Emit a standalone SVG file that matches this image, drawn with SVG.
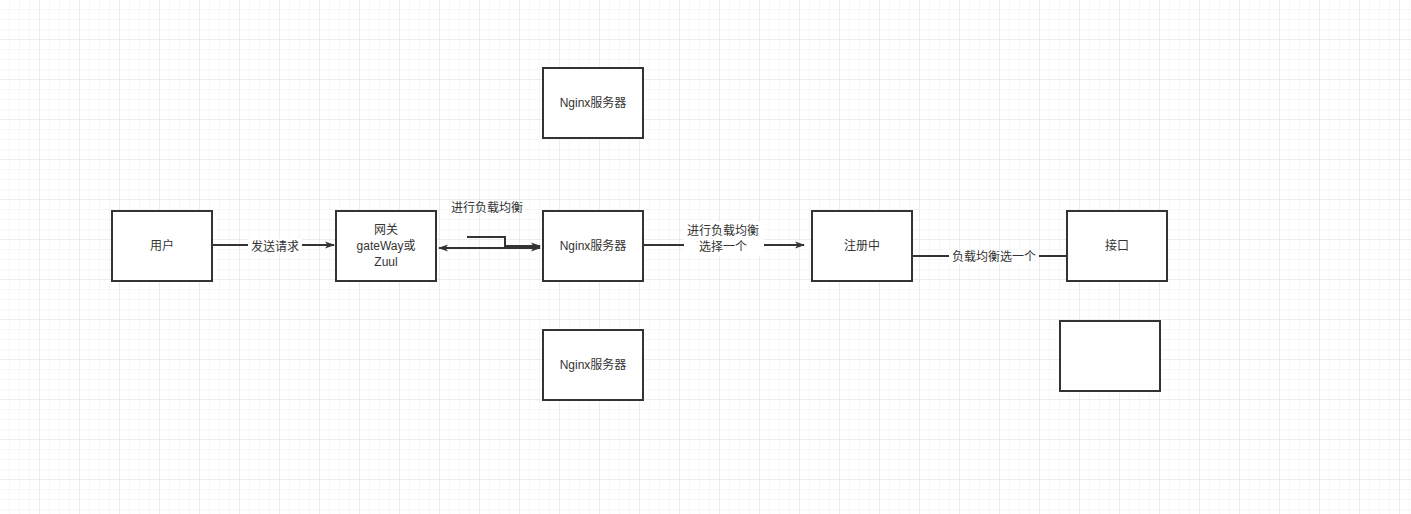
<svg xmlns="http://www.w3.org/2000/svg" width="1411" height="514" viewBox="0 0 1411 514">
<defs>
<pattern id="minor" width="10" height="10" patternUnits="userSpaceOnUse" x="0" y="0"><path d="M10 0V10H0" fill="none" stroke="#efefef" stroke-width="1"/></pattern>
<pattern id="major" width="40" height="40" patternUnits="userSpaceOnUse" x="0" y="0"><rect width="40" height="40" fill="url(#minor)"/><path d="M40 0V40H0" fill="none" stroke="#e2e2e2" stroke-width="1"/></pattern>
<marker id="ah" viewBox="0 0 10 10" refX="9" refY="5" markerWidth="10" markerHeight="10" markerUnits="userSpaceOnUse" orient="auto-start-reverse"><path d="M0 1.5L10 5L0 8.5L2.5 5Z" fill="#333"/></marker>
</defs>
<style>
.box{fill:#fff;stroke:#333;stroke-width:2}
.t{font-family:"Liberation Sans","Noto Sans CJK SC",sans-serif;font-size:12px;fill:#333;text-anchor:middle}
.c{fill:none;stroke:#333;stroke-width:2}
.lb{fill:#fff}
</style>
<rect width="1411" height="514" fill="#fff"/>
<rect width="1411" height="514" fill="url(#major)"/>
<g id="connectors">
<line class="c" x1="212" y1="245" x2="334" y2="245" marker-end="url(#ah)"/>
<rect class="lb" x="248" y="239" width="54" height="15"/>
<text class="t" x="275" y="251">发送请求</text>
<line class="c" x1="439" y1="248" x2="540" y2="248" marker-start="url(#ah)" marker-end="url(#ah)"/>
<polyline class="c" points="467,237 505,237 505,246 540,246" marker-end="url(#ah)"/>
<text class="t" x="487" y="212">进行负载均衡</text>
<line class="c" x1="643" y1="245" x2="804" y2="245" marker-end="url(#ah)"/>
<rect class="lb" x="684" y="222" width="80" height="34"/>
<text class="t" x="723" y="235">进行负载均衡</text>
<text class="t" x="723" y="251">选择一个</text>
<line class="c" x1="912" y1="256" x2="1075" y2="256" marker-end="url(#ah)"/>
<rect class="lb" x="949" y="250" width="90" height="14"/>
<text class="t" x="994" y="261">负载均衡选一个</text>
</g>
<g id="user"><rect class="box" x="112" y="211" width="100" height="70"/><text class="t" x="162" y="250">用户</text></g>
<g id="gateway"><rect class="box" x="336" y="211" width="100" height="70"/><text class="t" x="386" y="234">网关</text><text class="t" x="386" y="250">gateWay或</text><text class="t" x="386" y="266">Zuul</text></g>
<g id="nginx1"><rect class="box" x="543" y="68" width="100" height="70"/><text class="t" x="593" y="107">Nginx服务器</text></g>
<g id="nginx2"><rect class="box" x="543" y="211" width="100" height="70"/><text class="t" x="593" y="250">Nginx服务器</text></g>
<g id="nginx3"><rect class="box" x="543" y="330" width="100" height="70"/><text class="t" x="593" y="369">Nginx服务器</text></g>
<g id="registry"><rect class="box" x="812" y="211" width="100" height="70"/><text class="t" x="862" y="250">注册中</text></g>
<g id="api"><rect class="box" x="1067" y="211" width="100" height="70"/><text class="t" x="1117" y="250">接口</text></g>
<g id="empty"><rect class="box" x="1060" y="321" width="100" height="70"/></g>
</svg>
